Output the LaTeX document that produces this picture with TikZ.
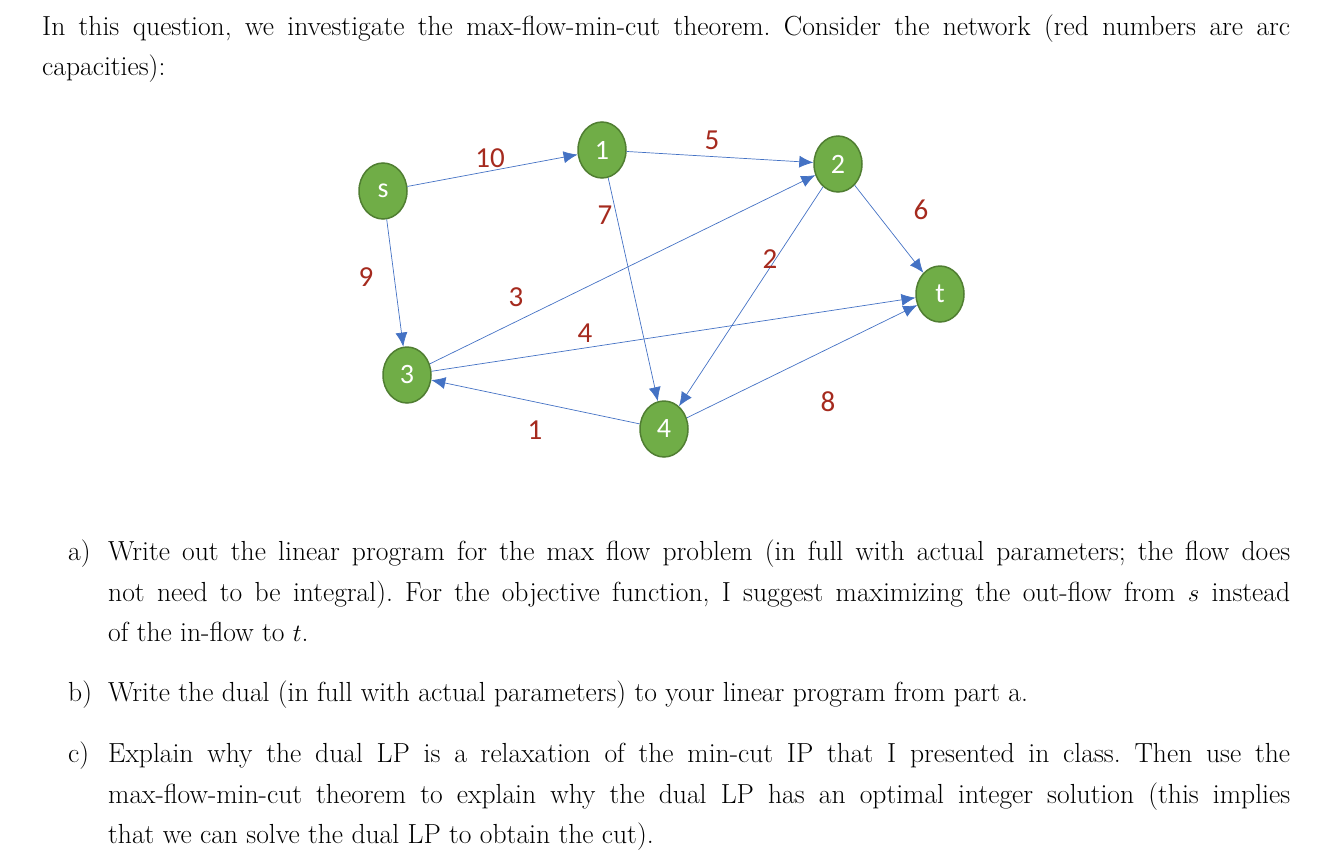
\documentclass[tikz,border=0pt]{standalone}
\usepackage{fontspec}
\newfontfamily\carl{Carlito}
\usetikzlibrary{arrows.meta,shapes.geometric}
\definecolor{ng}{HTML}{70AD47}
\definecolor{nb}{HTML}{507E32}
\definecolor{eb}{HTML}{4472C4}
\definecolor{lr}{HTML}{A52A1E}
\frenchspacing
\begin{document}
\begin{tikzpicture}[x=1pt,y=-1pt,
 vx/.style={ellipse,fill=ng,draw=nb,line width=1.5pt,minimum width=48pt,minimum height=56pt,inner sep=0pt,text=white,font=\carl\fontsize{28}{28}\selectfont},
 ed/.style={draw=eb,line width=0.7pt,-{Latex[length=14pt,width=12pt]}},
 cp/.style={text=lr,font=\carl\fontsize{29}{29}\selectfont},
 tx/.style={anchor=base west,inner sep=0pt,font=\fontsize{27.6}{32}\selectfont}]
\useasboundingbox (0,0) rectangle (1342,852);
\node[vx] (s) at (383,191) {s};
\node[vx] (n1) at (602,150) {1};
\node[vx] (n2) at (838,164) {2};
\node[vx] (t) at (940,294) {t};
\node[vx] (n3) at (407,375) {3};
\node[vx] (n4) at (664,429) {4};
\draw[ed] (s) -- (n1);
\draw[ed] (s) -- (n3);
\draw[ed] (n1) -- (n2);
\draw[ed] (n1) -- (n4);
\draw[ed] (n2) -- (t);
\draw[ed] (n2) -- (n4);
\draw[ed] (n3) -- (n2);
\draw[ed] (n3) -- (t);
\draw[ed] (n4) -- (n3);
\draw[ed] (n4) -- (t);
\node[cp] (l10) at (490,158) {10};
\node[cp] (l5) at (712,140) {5};
\node[cp] (l7) at (605,215) {7};
\node[cp] (l9) at (366,277) {9};
\node[cp] (l6) at (921,210) {6};
\node[cp] (l2) at (770,259) {2};
\node[cp] (l3) at (516,297) {3};
\node[cp] (l4) at (585,333) {4};
\node[cp] (l1) at (535,430) {1};
\node[cp] (l8) at (828,402) {8};
\node[tx] (p1) at (42,35) {\makebox[1248pt][s]{In this question, we investigate the max-flow-min-cut theorem. Consider the network (red numbers are arc}};
\node[tx] (p2) at (42,75) {capacities):};
\node[tx] (a) at (68,560) {a)};
\node[tx] (a1) at (108,560) {\makebox[1182pt][s]{Write out the linear program for the max flow problem (in full with actual parameters; the flow does}};
\node[tx] (a2) at (108,601) {\makebox[1182pt][s]{not need to be integral). For the objective function, I suggest maximizing the out-flow from $s$ instead}};
\node[tx] (a3) at (108,641) {of the in-flow to $t$.};
\node[tx] (b) at (68,701) {b)};
\node[tx] (b1) at (108,701) {Write the dual (in full with actual parameters) to your linear program from part a.};
\node[tx] (c) at (68,762) {c)};
\node[tx] (c1) at (108,762) {\makebox[1182pt][s]{Explain why the dual LP is a relaxation of the min-cut IP that I presented in class. Then use the}};
\node[tx] (c2) at (108,803) {\makebox[1182pt][s]{max-flow-min-cut theorem to explain why the dual LP has an optimal integer solution (this implies}};
\node[tx] (c3) at (108,843) {that we can solve the dual LP to obtain the cut).};
\end{tikzpicture}
\end{document}
